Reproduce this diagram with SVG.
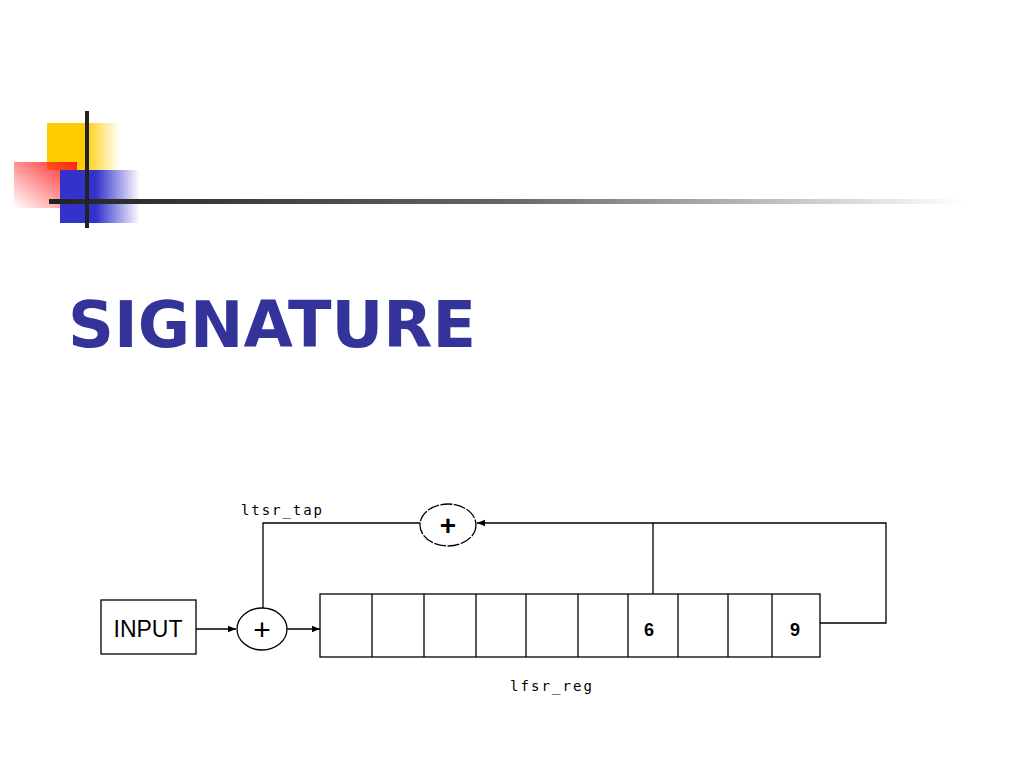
<svg xmlns="http://www.w3.org/2000/svg" width="1024" height="768" viewBox="0 0 1024 768">
<defs>
<linearGradient id="gy" x1="0" x2="1"><stop offset="0.5" stop-color="#ffcc00"/><stop offset="1" stop-color="#ffcc00" stop-opacity="0"/></linearGradient>
<linearGradient id="gb" x1="0" x2="1"><stop offset="0.45" stop-color="#3333cc"/><stop offset="1" stop-color="#3333cc" stop-opacity="0"/></linearGradient>
<linearGradient id="gr" x1="1" y1="0" x2="0" y2="1"><stop offset="0" stop-color="#ff2020"/><stop offset="1" stop-color="#ff2020" stop-opacity="0"/></linearGradient>
<linearGradient id="gl" x1="0" x2="1"><stop offset="0" stop-color="#222"/><stop offset="0.5" stop-color="#666"/><stop offset="1" stop-color="#fff"/></linearGradient>
<marker id="ar" viewBox="0 0 10 10" refX="10" refY="5" markerWidth="8" markerHeight="8" markerUnits="userSpaceOnUse" orient="auto"><path d="M0,1 L10,5 L0,9 z" fill="#000"/></marker>
<style>
.ln{stroke:#000;stroke-width:1.3;fill:none}
.bx{stroke:#000;stroke-width:1.3;fill:#fff}
.t{font-family:"Liberation Sans",Arial,sans-serif}
.s{font-family:"DejaVu Sans Mono",monospace;font-size:14px}
</style>
</defs>
<rect x="47" y="123" width="73" height="47" fill="url(#gy)"/>
<rect x="14" y="162" width="63" height="46" fill="url(#gr)"/>
<rect x="60" y="170" width="80" height="53" fill="url(#gb)"/>
<rect x="49" y="199" width="915" height="5" fill="url(#gl)"/>
<rect x="85" y="111" width="4" height="117" fill="#222"/>
<text x="68" y="347" font-family="DejaVu Sans,Verdana,sans-serif" font-size="64" font-weight="bold" fill="#333399" textLength="408" lengthAdjust="spacingAndGlyphs">SIGNATURE</text>
<g id="connectors">
<line x1="196" y1="629" x2="236" y2="629" class="ln" marker-end="url(#ar)"/>
<line x1="287" y1="629" x2="320" y2="629" class="ln" marker-end="url(#ar)"/>
<polyline points="820,623 886,623 886,523 477,523" class="ln" marker-end="url(#ar)"/>
<line x1="653" y1="594" x2="653" y2="523" class="ln"/>
<polyline points="420,523 263,523 263,608" class="ln"/>
</g>
<g id="input"><rect x="101" y="600" width="95" height="54" class="bx"/><text x="148" y="637" class="t" font-size="23" text-anchor="middle">INPUT</text></g>
<g id="xor1"><ellipse cx="262" cy="629" rx="25" ry="21" class="bx"/><text x="262" y="640" class="t" font-size="30" text-anchor="middle">+</text></g>
<g id="xor2"><ellipse cx="448" cy="525" rx="28" ry="21" class="bx" stroke-dasharray="12,1.5"/><text x="448" y="535" class="t" font-size="28" font-weight="bold" text-anchor="middle">+</text></g>
<g id="lfsr_reg">
<rect x="320" y="594" width="500" height="63" class="bx"/>
<path d="M372,594V657M424,594V657M476,594V657M526,594V657M578,594V657M628,594V657M678,594V657M728,594V657M772,594V657" class="ln"/>
<text x="649" y="636" class="t" font-size="18" font-weight="bold" text-anchor="middle">6</text>
<text x="795" y="636" class="t" font-size="18" font-weight="bold" text-anchor="middle">9</text>
</g>
<text x="241" y="515" class="s" textLength="81">ltsr_tap</text>
<text x="510" y="691" class="s" textLength="82">lfsr_reg</text>
</svg>
